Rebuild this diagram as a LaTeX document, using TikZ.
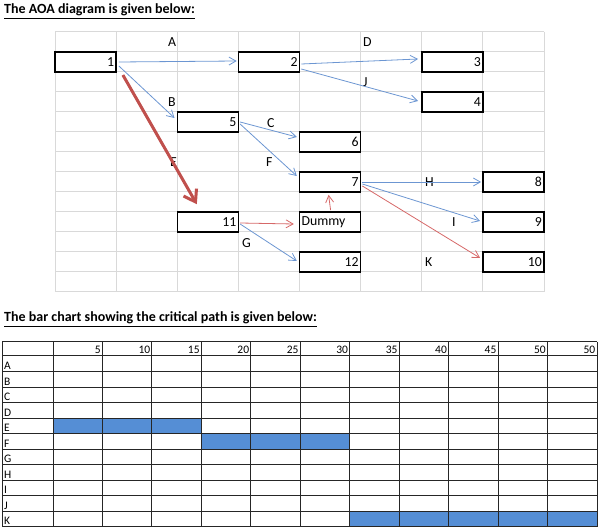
\documentclass[tikz,border=0pt]{standalone}
\usepackage{fontspec}
\setmainfont{Carlito}
\usetikzlibrary{arrows.meta}
\definecolor{gridgray}{RGB}{217,217,217}
\definecolor{arrblue}{RGB}{108,150,210}
\definecolor{arrred}{RGB}{214,104,104}
\definecolor{bigred}{RGB}{192,80,77}
\definecolor{barblue}{RGB}{85,142,213}
\begin{document}
\begin{tikzpicture}[x=1pt,y=-1pt,
  evbox/.style={draw=black, line width=1.6pt, fill=white, minimum width=61pt, minimum height=20pt,
    inner sep=0pt, text width=57pt, align=right, font=\fontsize{13.8}{15}\selectfont},
  lbl/.style={font=\fontsize{13.8}{15}\selectfont, inner sep=0pt, anchor=west},
  blarrow/.style={draw=arrblue, line width=0.8pt, -{Straight Barb[length=7pt,width=8pt]}},
  rdarrow/.style={draw=arrred, line width=0.8pt, -{Straight Barb[length=7pt,width=8pt]}},
  bigarrow/.style={draw=bigred, line width=3pt, -{Straight Barb[length=11pt,width=15pt]}},
  ttl/.style={font=\fontsize{14}{16}\selectfont\bfseries, inner sep=0pt, anchor=base west},
  hdr/.style={font=\fontsize{11.5}{13}\selectfont, inner sep=0pt, anchor=base east},
  rowl/.style={font=\fontsize{11.5}{13}\selectfont, inner sep=0pt, anchor=base west},
  tline/.style={draw=black!85, line width=1pt}
]
\useasboundingbox (0,0) rectangle (600,529);

% titles
\node[ttl] (t1) at (4,14) {\underline{The AOA diagram is given below:}};
\node[ttl] (t2) at (4,322) {\underline{The bar chart showing the critical path is given below:}};

% spreadsheet grid
\foreach \i in {0,...,8}
  \draw[gridgray, line width=1pt] (55+61.125*\i,32) -- (55+61.125*\i,292);
\foreach \j in {0,...,13}
  \draw[gridgray, line width=1pt] (55,32+20*\j) -- (544,32+20*\j);

% activity labels
\node[lbl] (lA) at (168,42) {A};
\node[lbl] (lD) at (363,42) {D};
\node[lbl] (lJ) at (363,82) {J};
\node[lbl] (lB) at (168,102) {B};
\node[lbl] (lC) at (267,123) {C};
\node[lbl] (lE) at (170,162) {E};
\node[lbl] (lF) at (266,162) {F};
\node[lbl] (lH) at (425,182) {H};
\node[lbl] (lI) at (452,222) {I};
\node[lbl] (lG) at (242,243) {G};
\node[lbl] (lK) at (425,262) {K};

% event boxes
\node[evbox] (n1) at (85.6,62) {1};
\node[evbox] (n2) at (269,62) {2};
\node[evbox] (n3) at (452.3,62) {3};
\node[evbox] (n4) at (452.3,102) {4};
\node[evbox] (n5) at (207.8,122) {5};
\node[evbox] (n6) at (330.1,142) {6};
\node[evbox] (n7) at (330.1,182) {7};
\node[evbox] (n8) at (513.4,182) {8};
\node[evbox] (n9) at (513.4,222) {9};
\node[evbox] (n10) at (513.4,262) {10};
\node[evbox] (n11) at (207.8,222) {11};
\node[evbox, align=left] (dm) at (330.1,222) {Dummy};
\node[evbox] (n12) at (330.1,262) {12};

% connectors
\draw[blarrow] ([shift={(2,0)}]n1.east) -- ([shift={(-1,-1)}]n2.west);
\draw[blarrow] ([shift={(2,4)}]n1.east) -- ([shift={(-2,-4)}]n5.west);
\draw[bigarrow] ([shift={(6,13)}]n1.east) -- ([shift={(-11,-7)}]n11.north);
\draw[blarrow] ([shift={(1,2)}]n2.east) -- ([shift={(-3,-3)}]n3.west);
\draw[blarrow] ([shift={(1,7)}]n2.east) -- ([shift={(-3,-1)}]n4.west);
\draw[blarrow] ([shift={(1,0)}]n5.east) -- ([shift={(-2,-5)}]n6.west);
\draw[blarrow] ([shift={(1,2)}]n5.east) -- ([shift={(-2,-6)}]n7.west);
\draw[rdarrow] ([shift={(1,1)}]n11.east) -- ([shift={(-5,2)}]dm.west);
\draw[blarrow] ([shift={(1,2)}]n11.east) -- ([shift={(-2,-1)}]n12.west);
\draw[rdarrow] ([shift={(0.5,-1)}]dm.north) -- ([shift={(-1.5,2)}]n7.south);
\draw[blarrow] ([shift={(1,0)}]n7.east) -- ([shift={(-1,0)}]n8.west);
\draw[blarrow] ([shift={(1,2)}]n7.east) -- ([shift={(-2,-1)}]n9.west);
\draw[rdarrow] ([shift={(1,4)}]n7.east) -- ([shift={(-2,-4)}]n10.west);

% bar chart fills
\fill[barblue] (53,418.18) rectangle (201.35,433.73);
\fill[barblue] (201.35,433.73) rectangle (349.7,449.27);
\fill[barblue] (349.7,511.45) rectangle (597,527);

% bar chart grid
\foreach \x in {2,53,102.45,151.9,201.35,250.8,300.25,349.7,399.15,448.6,498.05,547.5,597}
  \draw[tline] (\x,342) -- (\x,527);
\draw[tline] (2,342) -- (597,342);
\foreach \k in {0,...,11}
  \draw[tline] (2,356+15.545*\k) -- (597,356+15.545*\k);

% header numbers
\foreach \v/\k in {5/1,10/2,15/3,20/4,25/5,30/6,35/7,40/8,45/9,50/10,50/11}
  \node[hdr] (h\k) at (53+49.45*\k-1.5,354) {\v};

% row letters
\foreach \l/\k in {A/1,B/2,C/3,D/4,E/5,F/6,G/7,H/8,I/9,J/10,K/11}
  \node[rowl] (r\l) at (4,356+15.545*\k-2) {\l};
\end{tikzpicture}
\end{document}
